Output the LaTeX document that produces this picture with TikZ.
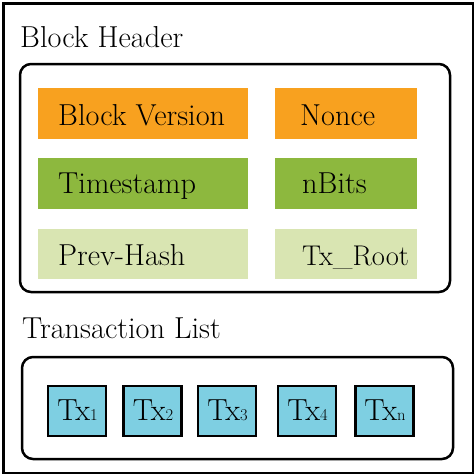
\documentclass[tikz,border=0pt]{standalone}
\usepackage{fontspec}
\definecolor{fOrange}{HTML}{F8A11F}
\definecolor{fGreen}{HTML}{8DB83E}
\definecolor{fLight}{HTML}{D9E5B2}
\definecolor{fBlue}{HTML}{7ECFE2}
\begin{document}
\begin{tikzpicture}[x=1pt,y=-1pt,
  field/.style={inner sep=0pt, anchor=north west, minimum height=51pt},
  lbl/.style={inner sep=0pt, anchor=base west, font=\fontsize{30.3}{34}\selectfont},
  group/.style={draw, line width=2.5pt, rounded corners=11pt},
  txbox/.style={draw, line width=2.5pt, fill=fBlue, minimum width=58pt, minimum height=50pt, inner sep=0pt},
  txlbl/.style={inner sep=0pt, anchor=base, font=\fontsize{30.5}{34}\selectfont}]
\useasboundingbox (0,0) rectangle (474,474);
\node[draw, line width=3.5pt, inner sep=0pt, minimum width=470.5pt, minimum height=470.5pt, anchor=north west] (frame) at (1.75,1.75) {};
% headings
\node[lbl] (bh) at (20,47) {Block Header};
\node[lbl] (tl) at (22,338) {Transaction List};
% header group
\draw[group] (20,64) rectangle (450,292);
\node[field, fill=fOrange, minimum width=210pt] (bv) at (38,88) {};
\node[field, fill=fOrange, minimum width=142pt] (nonce) at (275,88) {};
\node[field, fill=fGreen, minimum width=210pt] (ts) at (38,158) {};
\node[field, fill=fGreen, minimum width=142pt] (nbits) at (275,158) {};
\node[field, fill=fLight, minimum width=210pt, minimum height=50pt] (ph) at (38,229) {};
\node[field, fill=fLight, minimum width=142pt, minimum height=50pt] (txr) at (275,229) {};
\node[lbl] (bvl) at (58,125) {Block Version};
\node[lbl] (noncel) at (300,125) {Nonce};
\node[lbl] (tsl) at (58,193) {Timestamp};
\node[lbl] (nbitsl) at (302,193) {nBits};
\node[lbl] (phl) at (58,265) {Prev-Hash};
\node[lbl, font=\fontsize{28.5}{34}\selectfont] (txrl) at (302,265) {Tx\_Root};
% transaction group
\draw[group] (22,357) rectangle (453,459);
\newcommand{\txsub}[1]{{\fontsize{16.5}{17}\selectfont #1}}
\node[txbox] (t1) at (77,411) {};
\node[txbox] (t2) at (152.5,411) {};
\node[txbox] (t3) at (227,411) {};
\node[txbox] (t4) at (307,411) {};
\node[txbox] (tn) at (384.5,411) {};
\node[txlbl] (t1l) at (77.5,420) {Tx\txsub{1}};
\node[txlbl] (t2l) at (153,420) {Tx\txsub{2}};
\node[txlbl] (t3l) at (227.5,420) {Tx\txsub{3}};
\node[txlbl] (t4l) at (307.5,420) {Tx\txsub{4}};
\node[txlbl] (tnl) at (385,420) {Tx\txsub{n}};
\end{tikzpicture}
\end{document}
